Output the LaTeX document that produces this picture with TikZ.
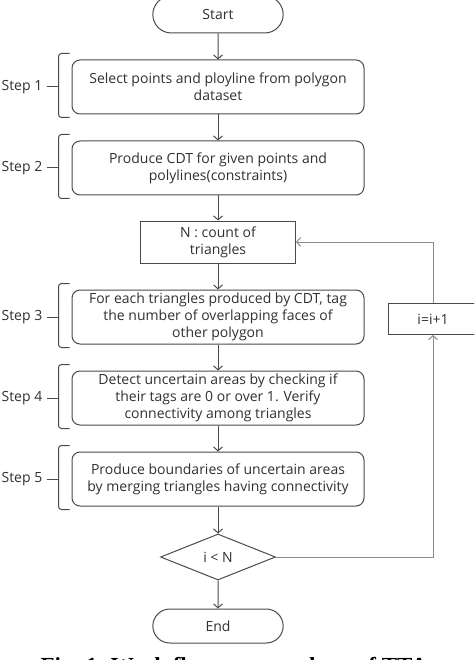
\documentclass[tikz,border=0pt]{standalone}
\usepackage{fontspec}
\setmainfont{Open Sans}
\newfontfamily\capfont{Liberation Serif}
\usetikzlibrary{arrows.meta,positioning,shapes.geometric,shapes.misc}
\usepackage{xcolor}
\definecolor{linegray}{HTML}{4A4A4A}
\definecolor{loopgray}{HTML}{8C8C8C}
\definecolor{txtgray}{HTML}{303030}
\tikzset{
  terminal/.style={rounded rectangle,draw=linegray,line width=1pt,
    minimum width=137pt,minimum height=34pt,font=\fontsize{14}{17}\selectfont,text=txtgray},
  process/.style={rectangle,rounded corners=8pt,draw=linegray,line width=1pt,
    minimum width=292pt,minimum height=54pt,font=\fontsize{14}{17}\selectfont,
    text=txtgray,align=center,inner sep=1pt},
  countbox/.style={rectangle,draw=linegray,line width=1pt,
    minimum width=155pt,minimum height=42pt,font=\fontsize{14}{17}\selectfont,
    text=txtgray,align=center,inner sep=1pt},
  incbox/.style={rectangle,draw=linegray,line width=1pt,
    minimum width=90pt,minimum height=31pt,font=\fontsize{14}{17}\selectfont,text=txtgray},
  decision/.style={diamond,draw=linegray,line width=1pt,aspect=2.5,
    minimum width=115pt,minimum height=46pt,inner sep=0pt,
    font=\fontsize{14}{17}\selectfont,text=txtgray},
  steplbl/.style={font=\fontsize{14}{17}\selectfont,text=txtgray,inner sep=2pt},
  bracket/.style={draw=linegray,line width=1pt,rounded corners=3pt},
  arrow/.style={draw=linegray,line width=1pt,-{Straight Barb[length=4pt,width=9pt]}},
  looparrow/.style={draw=loopgray,line width=1pt,-{Straight Barb[length=4pt,width=9pt]}},
  caption/.style={font=\capfont\bfseries\fontsize{23}{25}\selectfont,inner sep=0pt}
}

\begin{document}
\begin{tikzpicture}[node distance=26pt]
  \clip (0,0) rectangle (474pt,-660pt);

  \node[terminal,minimum height=37pt] (start) at (218pt,-14.5pt) {Start};
  \node[process,below=of start] (s1) {Select points and ployline from polygon\\dataset};
  \node[process,below=of s1] (s2) {Produce CDT for given points and\\polylines(constraints)};
  \node[countbox,below=25pt of s2] (count) {N : count of\\triangles};
  \node[process,below=of count] (s3) {For each triangles produced by CDT, tag\\the number of overlapping faces of\\other polygon};
  \node[process,below=of s3] (s4) {Detect uncertain areas by checking if\\their tags are 0 or over 1. Verify\\connectivity among triangles};
  \node[process,below=of s4] (s5) {Produce boundaries of uncertain areas\\by merging triangles having connectivity};
  \node[decision,below=27pt of s5] (test) {i < N};
  \node[terminal,below=28pt of test] (end) {End};
  \node[incbox,right=23pt of s3,yshift=-2pt] (inc) {i=i+1};

  \node[caption,anchor=base] (cap) at (234pt,-673pt) {Fig. 1. Work flow process chart of TTA};

  % step brackets
  \foreach \s/\n in {s1/1,s2/2,s3/3,s4/4,s5/5} {
    \node[steplbl,left=27pt of \s] (lbl\n) {Step \n};
    \draw[bracket] ([xshift=-2pt,yshift=6pt]\s.north west) -- ++(-11pt,0)
      -- ([xshift=-13pt,yshift=-3pt]\s.south west) -- ++(11pt,0);
    \draw[draw=linegray,line width=1pt] ([xshift=2pt]lbl\n.east) -- ([xshift=-13pt]\s.west);
  }

  \draw[arrow] (start) -- (s1);
  \draw[arrow] (s1) -- (s2);
  \draw[arrow] (s2) -- (count);
  \draw[arrow] (count) -- (s3);
  \draw[arrow] (s3) -- (s4);
  \draw[arrow] (s4) -- (s5);
  \draw[arrow] (s5) -- (test);
  \draw[arrow] (test) -- (end);
  \draw[looparrow] (test.east) -| (inc.south);
  \draw[looparrow] (inc.north) |- (count.east);
\end{tikzpicture}
\end{document}
